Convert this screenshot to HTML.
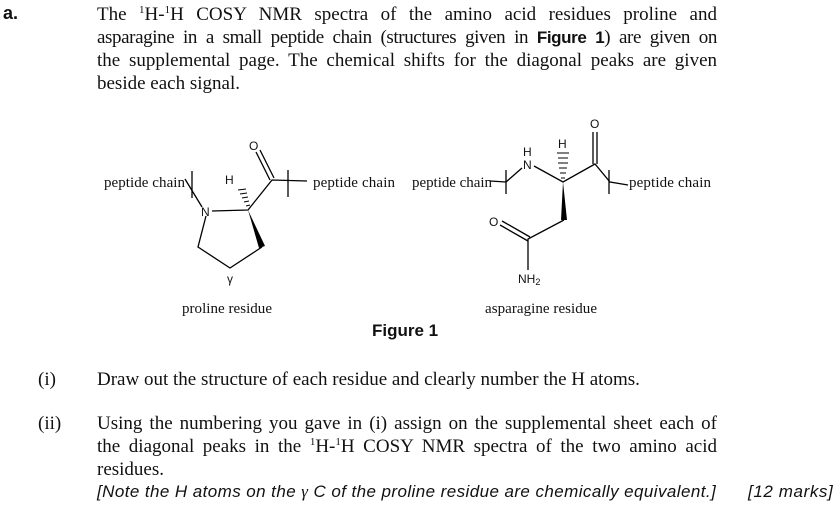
<!DOCTYPE html>
<html><head><meta charset="utf-8"><style>
body{margin:0;width:840px;height:509px;background:#fff;position:relative;overflow:hidden;font-family:"Liberation Serif",serif;color:#111}
.l{position:absolute;font-size:19px;white-space:nowrap;line-height:1}
.j{text-align:justify;text-align-last:justify;white-space:normal}
.s{font-family:"Liberation Sans",sans-serif}
sup{font-size:11px;vertical-align:7px;line-height:0}
svg{position:absolute;left:0;top:0}
</style></head><body>
<div class="l s" style="left:3px;top:4px;font-size:18px;font-weight:bold">a.</div>
<div class="l j" style="left:97px;top:5px;width:620px">The <sup>1</sup>H-<sup>1</sup>H COSY NMR spectra of the amino acid residues proline and</div>
<div class="l j" style="left:97px;top:28px;width:620px;letter-spacing:-0.4px;word-spacing:-2px">asparagine in a small peptide chain (structures given in <b class="s" style="font-size:17px">Figure 1</b>) are given on</div>
<div class="l j" style="left:97px;top:51px;width:620px">the supplemental page. The chemical shifts for the diagonal peaks are given</div>
<div class="l" style="left:97px;top:74px">beside each signal.</div>

<svg width="840" height="509" viewBox="0 0 840 509" font-family="Liberation Serif, serif" fill="none" stroke="#000" stroke-width="1.3">
<g font-size="15" fill="#111" stroke="none">
<text x="104" y="187" textLength="81">peptide chain</text>
<text x="313" y="187" textLength="82">peptide chain</text>
<text x="182" y="313" textLength="90">proline residue</text>
<text x="412" y="187" textLength="80">peptide chain</text>
<text x="629" y="187" textLength="82">peptide chain</text>
<text x="485" y="313" textLength="112">asparagine residue</text>
</g>
<g font-family="Liberation Sans, sans-serif" font-size="12" fill="#111" stroke="none">
<text x="201" y="216">N</text>
<text x="225" y="184">H</text>
<text x="249" y="150">O</text>
<text x="227" y="283">γ</text>
<text x="523" y="156">H</text>
<text x="523" y="169">N</text>
<text x="558" y="148">H</text>
<text x="590" y="128">O</text>
<text x="489" y="226">O</text>
<text x="518" y="283">NH<tspan font-size="9" dy="2">2</tspan></text>
</g>
<path d="M185 179 L202 207"/>
<path d="M192 171 L192 198"/>
<path d="M212 211 L248 210 L272 180 L307 181"/>
<path d="M288 170 L288 197"/>
<path d="M270 180 L256 152 M274 178 L260 150"/>
<path d="M262 247 L230 268 L198 247 L206 216"/>
<polygon points="248,210 259,248 265,246" fill="#000" stroke="none"/>
<g stroke-width="1">
<path d="M246 206 L250 205 M244 202 L249 201 M242 198 L248 197 M240 194 L247 193 M238 190 L246 189"/>
</g>
<path d="M490 181 L506 182"/>
<path d="M506 170 L506 194"/>
<path d="M506 182 L522 168"/>
<path d="M534 166 L563 182 L595 164 L610 182 L628 185"/>
<path d="M609 170 L609 194"/>
<path d="M593 164 L593 132 M597 164 L597 132"/>
<polygon points="563,182 561,220 567,220" fill="#000" stroke="none"/>
<g stroke-width="1">
<path d="M561 178 L565 178 M560 173 L566 173 M559 168 L567 168 M558 163 L568 163 M558 158 L568 158 M557 153 L569 153"/>
</g>
<path d="M564 220 L528 239 L528 270"/>
<path d="M528 241 L500 225 M530 237 L502 221"/>
</svg>

<div class="l s" style="left:372px;top:322px;font-size:17px;font-weight:bold">Figure 1</div>
<div class="l" style="left:38px;top:370px">(i)</div>
<div class="l" style="left:97px;top:370px">Draw out the structure of each residue and clearly number the H atoms.</div>
<div class="l" style="left:38px;top:414px">(ii)</div>
<div class="l j" style="left:97px;top:414px;width:620px">Using the numbering you gave in (i) assign on the supplemental sheet each of</div>
<div class="l j" style="left:97px;top:437px;width:620px">the diagonal peaks in the <sup>1</sup>H-<sup>1</sup>H COSY NMR spectra of the two amino acid</div>
<div class="l" style="left:97px;top:460px">residues.</div>
<div class="l s" style="left:97px;top:483px;font-size:17px;font-style:italic;letter-spacing:0.42px">[Note the H atoms on the <span style="font-family:'Liberation Serif',serif">γ</span> C of the proline residue are chemically equivalent.]</div>
<div class="l s" style="left:748px;top:483px;font-size:17px;font-style:italic;letter-spacing:0.6px">[12 marks]</div>
</body></html>
